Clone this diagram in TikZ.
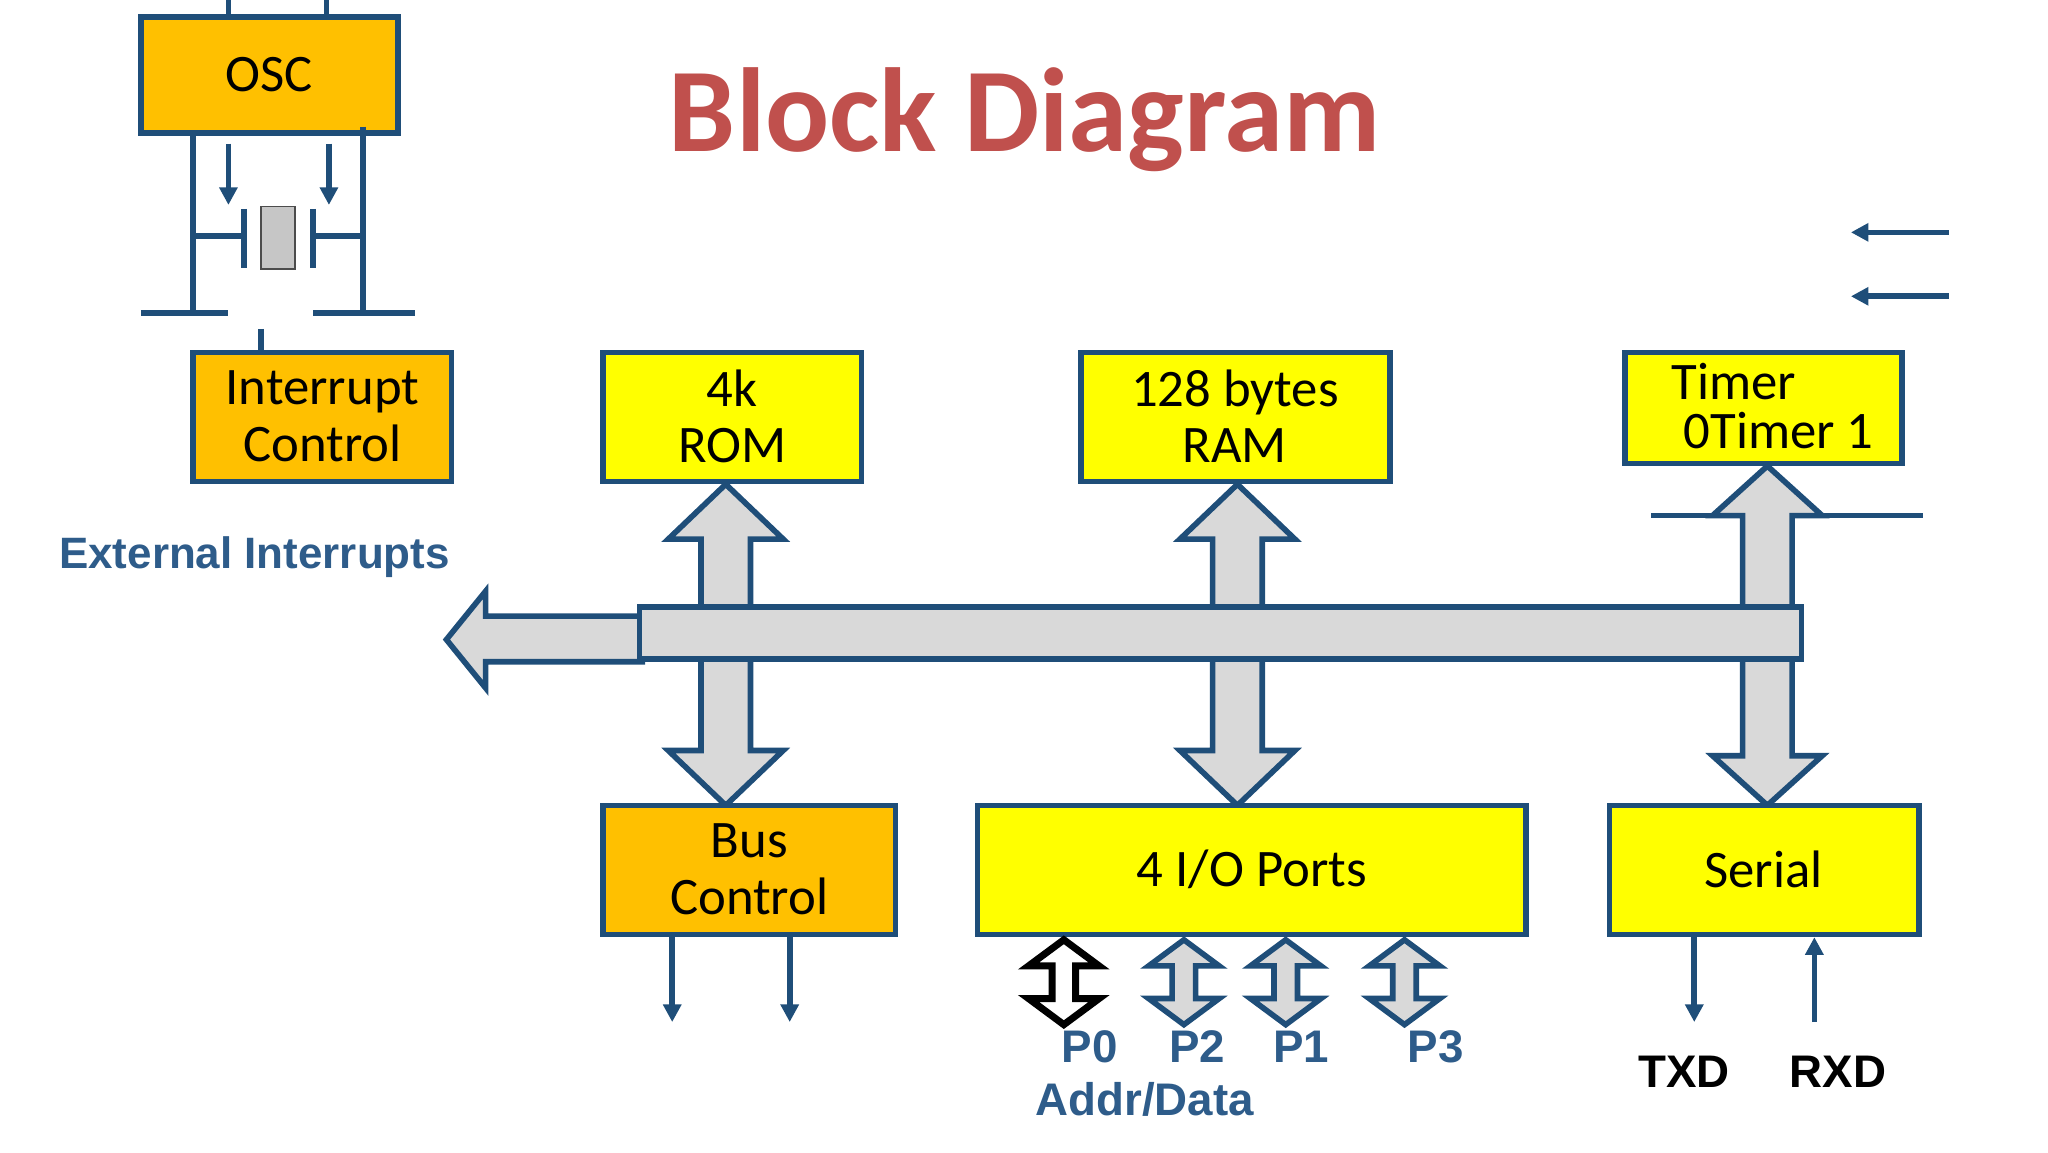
\documentclass[tikz,border=0pt]{standalone}
\usepackage{fontspec}
\setmainfont{Carlito}
\newfontfamily\labfont{Liberation Sans}
\usetikzlibrary{arrows.meta}
\definecolor{edge}{HTML}{1F4E79}
\definecolor{orng}{HTML}{FFC000}
\definecolor{yell}{HTML}{FFFF00}
\definecolor{busgray}{HTML}{D9D9D9}
\definecolor{titlered}{HTML}{C0504D}
\definecolor{labblue}{HTML}{2E5C8A}
% vertical double arrow: x, top, bottom, half shaft, half head, head length
\newcommand{\vdarrow}[7][]{%
  \draw[#1] (#2,#3) -- ({#2+#6},{#3+#7}) -- ({#2+#5},{#3+#7}) -- ({#2+#5},{#4-#7}) -- ({#2+#6},{#4-#7})
    -- (#2,#4) -- ({#2-#6},{#4-#7}) -- ({#2-#5},{#4-#7}) -- ({#2-#5},{#3+#7}) -- ({#2-#6},{#3+#7}) -- cycle;}
\begin{document}
\begin{tikzpicture}[x=0.13053mm,y=-0.13053mm,
  blk/.style={draw=edge,line width=1.6pt,minimum width=0pt},
  btxt/.style={font=\fontsize{15}{17}\selectfont,align=center},
  wire/.style={draw=edge,line width=1.6pt},
  arr/.style={wire,-{Triangle[length=5pt,width=5pt]}},
  fat/.style={draw=edge,line width=1.6pt,fill=busgray,line join=miter},
  lab/.style={font=\labfont\bfseries\fontsize{13}{15}\selectfont}]
\useasboundingbox (0,0) rectangle (1569,883);
% title
\node[text=titlered,font=\fontsize{34}{36}\selectfont\bfseries] (title) at (785,92) {Block Diagram};
% oscillator
\draw[blk,fill=orng] (108,13) rectangle (305,102);
\node[btxt] (osc) at (206,57) {OSC};
\draw[wire] (175,0) -- (175,13) (250,0) -- (250,13);
\draw[wire] (148,102) -- (148,240) (278,97) -- (278,240);
\draw[wire] (108,240) -- (175,240) (240,240) -- (318,240);
\draw[arr] (175,110) -- (175,157);
\draw[arr] (252,110) -- (252,157);
\draw[wire] (148,181) -- (187,181) (187,160) -- (187,205);
\draw[wire] (278,181) -- (240,181) (240,160) -- (240,205);
\draw[fill=gray!45,draw=black!70] (200,158) rectangle (226,206);
\draw[wire] (200,252) -- (200,270);
% top blocks
\draw[blk,fill=orng] (148,270) rectangle (346,369);
\node[btxt] (ic) at (247,319) {Interrupt\\[-1pt]Control};
\draw[blk,fill=yell] (462,270) rectangle (660,369);
\node[btxt] (rom) at (561,319) {4k\\[-1pt]ROM};
\draw[blk,fill=yell] (828,270) rectangle (1065,369);
\node[btxt] (ram) at (946,319) {128 bytes\\[-1pt]RAM};
\draw[blk,fill=yell] (1245,270) rectangle (1457,355);
\node[btxt,align=left] (tim) at (1358,311) {Timer\\[-3pt]\ 0Timer 1};
\node[text=labblue,font=\labfont\bfseries\fontsize{12.5}{14}\selectfont] (ext) at (195,427) {External Interrupts};
% right side arrows and lines
\draw[arr] (1493,178) -- (1418,178);
\draw[arr] (1493,227) -- (1418,227);
\draw[wire] (1265,395) -- (1335,395) (1395,395) -- (1473,395);
% fat arrows
\vdarrow[fat]{556}{371}{617}{19}{44}{42}
\vdarrow[fat]{948}{371}{617}{19}{44}{42}
\vdarrow[fat]{1354}{357}{617}{19}{42}{38}
% bus
\draw[fat] (492,472) -- (372,472) -- (372,453) -- (342,490) -- (372,527) -- (372,507) -- (492,507) -- cycle;
\draw[fat] (490,465) rectangle (1380,505);
% bottom blocks
\draw[blk,fill=orng] (462,617) rectangle (686,716);
\node[btxt] (bc) at (574,666) {Bus\\[-1pt]Control};
\draw[blk,fill=yell] (749,617) rectangle (1169,716);
\node[btxt] (io) at (959,666) {4 I/O Ports};
\draw[blk,fill=yell] (1233,617) rectangle (1470,716);
\node[btxt] (ser) at (1351,666) {Serial};
\draw[arr] (515,716) -- (515,783);
\draw[arr] (605,716) -- (605,783);
\draw[arr] (1298,716) -- (1298,783);
\draw[arr] (1390,783) -- (1390,718);
% ports
\vdarrow[draw=black,line width=2pt,fill=white]{815}{720}{785}{9}{27}{20}
\vdarrow[fat]{907}{720}{785}{9}{27}{20}
\vdarrow[fat]{985}{720}{785}{9}{27}{20}
\vdarrow[fat]{1076}{720}{785}{9}{27}{20}
\node[lab,text=labblue] (p0) at (835,802) {P0};
\node[lab,text=labblue] (p2) at (917,802) {P2};
\node[lab,text=labblue] (p1) at (997,802) {P1};
\node[lab,text=labblue] (p3) at (1100,802) {P3};
\node[lab,text=labblue] (ad) at (877,842) {Addr/Data};
\node[lab] (txd) at (1290,821) {TXD};
\node[lab] (rxd) at (1408,821) {RXD};
\end{tikzpicture}
\end{document}
